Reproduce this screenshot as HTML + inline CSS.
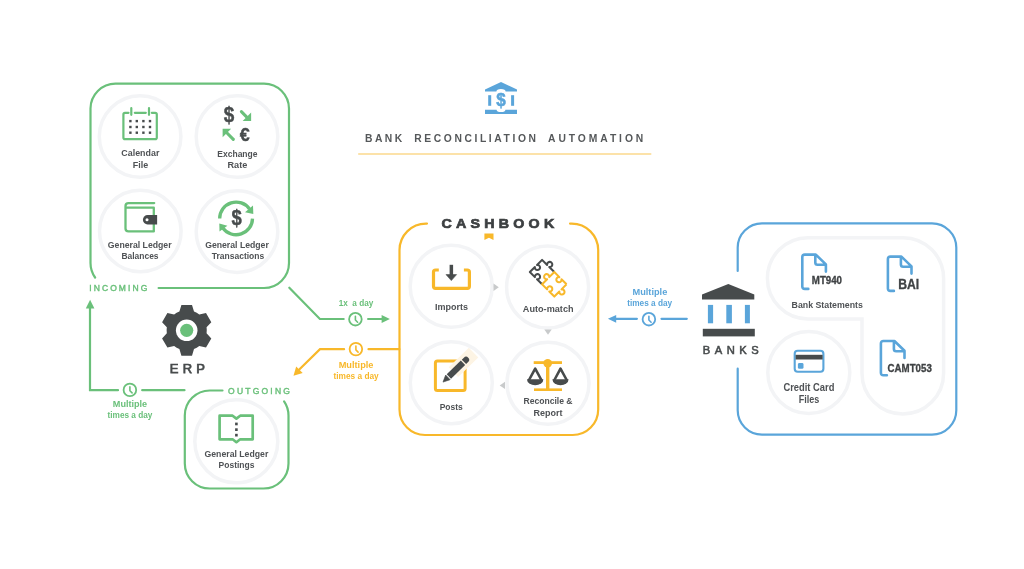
<!DOCTYPE html>
<html><head><meta charset="utf-8">
<style>
html,body{margin:0;padding:0;background:#fff;width:1024px;height:569px;overflow:hidden}
svg{display:block;will-change:transform;font-family:"Liberation Sans",sans-serif}
</style></head>
<body>
<svg width="1024" height="569" viewBox="0 0 1024 569">
<path d="M485 89.4 L501 82.1 L517 89.4 L517 91.6 L505.6 91.6 A4.6 2.6 0 0 0 496.4 91.6 L485 91.6 Z" fill="#5aa5da"/>
<rect x="488.2" y="95.2" width="3" height="10.6" fill="#5aa5da"/>
<rect x="511.1" y="95.2" width="3" height="10.6" fill="#5aa5da"/>
<path d="M485 109.8 L496.6 109.8 A4.4 2.3 0 0 0 505.4 109.8 L517 109.8 L517 114.1 L485 114.1 Z" fill="#5aa5da"/>
<text transform="translate(501.1 106.2) scale(0.95 1)" font-size="18" font-weight="bold" fill="#5aa5da" stroke="#5aa5da" stroke-width="0.5" text-anchor="middle">$</text>
<text x="365" y="141.8" font-size="10.3" font-weight="bold" fill="#55585a" textLength="37.2" lengthAdjust="spacing" >BANK</text>
<text x="414.3" y="141.8" font-size="10.3" font-weight="bold" fill="#55585a" textLength="121.7" lengthAdjust="spacing" >RECONCILIATION</text>
<text x="548.1" y="141.8" font-size="10.3" font-weight="bold" fill="#55585a" textLength="95.2" lengthAdjust="spacing" >AUTOMATION</text>
<line x1="358.2" y1="154" x2="651.3" y2="154" stroke="#fbd98c" stroke-width="1.6"/>
<path d="M95.1 277.5 A25 25 0 0 1 90.5 263 L90.5 108.6 A25 25 0 0 1 115.5 83.6 L264 83.6 A25 25 0 0 1 289 108.6 L289 263 A25 25 0 0 1 264 288 L158.6 288" fill="none" stroke="#6ac07a" stroke-width="2.2" stroke-linecap="round"/>
<circle cx="140.1" cy="136.5" r="40.8" fill="none" stroke="#f3f4f6" stroke-width="3.5"/>
<circle cx="237" cy="136.5" r="40.8" fill="none" stroke="#f3f4f6" stroke-width="3.5"/>
<circle cx="140.3" cy="231" r="40.8" fill="none" stroke="#f3f4f6" stroke-width="3.5"/>
<circle cx="237" cy="231.6" r="40.8" fill="none" stroke="#f3f4f6" stroke-width="3.5"/>
<text x="89.2" y="290.8" font-size="8.5" font-weight="normal" fill="#6ac07a" textLength="58.2" lengthAdjust="spacing" stroke="#6ac07a" stroke-width="0.4">INCOMING</text>
<g fill="none" stroke="#6ac07a" stroke-width="2.2" stroke-linecap="round">
<path d="M128.5 112.8 L125 112.8 Q123.4 112.8 123.4 114.5 L123.4 137.4 Q123.4 139.1 125 139.1 L155.2 139.1 Q156.8 139.1 156.8 137.4 L156.8 114.5 Q156.8 112.8 155.2 112.8 L151.8 112.8"/>
<path d="M134.8 112.8 L145.8 112.8"/>
<path d="M131.3 108.2 L131.3 114.8 M149 108.2 L149 114.8"/></g>
<g fill="#474b4c"><rect x="129.2" y="119.9" width="2.4" height="2.4"/><rect x="135.6" y="119.9" width="2.4" height="2.4"/><rect x="142.2" y="119.9" width="2.4" height="2.4"/><rect x="148.8" y="119.9" width="2.4" height="2.4"/><rect x="129.2" y="125.8" width="2.4" height="2.4"/><rect x="135.6" y="125.8" width="2.4" height="2.4"/><rect x="142.2" y="125.8" width="2.4" height="2.4"/><rect x="148.8" y="125.8" width="2.4" height="2.4"/><rect x="129.2" y="131.5" width="2.4" height="2.4"/><rect x="135.6" y="131.5" width="2.4" height="2.4"/><rect x="142.2" y="131.5" width="2.4" height="2.4"/><rect x="148.8" y="131.5" width="2.4" height="2.4"/></g>
<text x="140.35" y="156" font-size="9.7" font-weight="bold" fill="#4f5255" text-anchor="middle" textLength="38" lengthAdjust="spacingAndGlyphs">Calendar</text>
<text x="140.5" y="167.7" font-size="9.7" font-weight="bold" fill="#4f5255" text-anchor="middle" textLength="15.4" lengthAdjust="spacingAndGlyphs">File</text>
<text transform="translate(229.1 121.6) scale(0.86 1)" font-size="22" font-weight="bold" fill="#474b4c" stroke="#474b4c" stroke-width="0.45" text-anchor="middle">$</text>
<text transform="translate(244.8 141.3) scale(0.95 1)" font-size="19" font-weight="bold" fill="#474b4c" stroke="#474b4c" stroke-width="0.3" text-anchor="middle">€</text>
<g stroke="#6ac07a" stroke-width="3.1" fill="#6ac07a">
<line x1="241.4" y1="111.7" x2="247.5" y2="117.8" stroke-linecap="round"/><path d="M251.1 112.4 L251.1 120.9 L242.6 120.9 Z" stroke="none"/>
<line x1="233.3" y1="139.3" x2="227" y2="133" stroke-linecap="round"/><path d="M222.6 128.8 L231.1 128.8 L222.6 137.3 Z" stroke="none"/></g>
<text x="237.4" y="156.5" font-size="9.7" font-weight="bold" fill="#4f5255" text-anchor="middle" textLength="40.2" lengthAdjust="spacingAndGlyphs">Exchange</text>
<text x="237.4" y="167.7" font-size="9.7" font-weight="bold" fill="#4f5255" text-anchor="middle" textLength="19.8" lengthAdjust="spacingAndGlyphs">Rate</text>
<path d="M154.2 203.1 L128.5 203.1 Q125.5 203.1 125.5 206.1 L125.5 228.5 Q125.5 231.4 128.5 231.4 L153.8 231.4 L153.8 207.7 L126 207.7" fill="none" stroke="#6ac07a" stroke-width="2.3" stroke-linecap="round" stroke-linejoin="round"/>
<path d="M147.6 215 L157.1 215 L157.1 224.4 L147.6 224.4 A4.7 4.7 0 0 1 147.6 215 Z" fill="#474b4c"/><circle cx="147" cy="219.8" r="1.5" fill="#fff"/>
<text x="139.7" y="247.9" font-size="9.7" font-weight="bold" fill="#4f5255" text-anchor="middle" textLength="63.8" lengthAdjust="spacingAndGlyphs">General Ledger</text>
<text x="140" y="258.6" font-size="9.7" font-weight="bold" fill="#4f5255" text-anchor="middle" textLength="37.1" lengthAdjust="spacingAndGlyphs">Balances</text>
<g fill="none" stroke="#6ac07a" stroke-width="3.3"><path d="M219.7 218.4 A16.4 16.4 0 0 1 249.5 209"/><path d="M252.5 218.6 A16.4 16.4 0 0 1 223 228.2"/></g>
<g fill="#6ac07a"><path d="M253 205.5 L253.3 214 L245 212.3 Z"/><path d="M219.3 223.5 L219.5 231.5 L227.4 225.8 Z"/></g>
<text transform="translate(236.6 225.1) scale(0.84 1)" font-size="22" font-weight="bold" fill="#474b4c" stroke="#474b4c" stroke-width="0.45" text-anchor="middle">$</text>
<text x="237" y="248.2" font-size="9.7" font-weight="bold" fill="#4f5255" text-anchor="middle" textLength="63.7" lengthAdjust="spacingAndGlyphs">General Ledger</text>
<text x="238" y="259.4" font-size="9.7" font-weight="bold" fill="#4f5255" text-anchor="middle" textLength="52.4" lengthAdjust="spacingAndGlyphs">Transactions</text>
<path d="M179.40 311.57 L181.40 304.95 L192.00 304.95 L194.00 311.57 A20.1 20.1 0 0 1 199.27 314.61 L199.27 314.61 L206.01 313.03 L211.31 322.21 L206.57 327.26 A20.1 20.1 0 0 1 206.57 333.34 L206.57 333.34 L211.31 338.39 L206.01 347.57 L199.27 345.99 A20.1 20.1 0 0 1 194.00 349.03 L194.00 349.03 L192.00 355.65 L181.40 355.65 L179.40 349.03 A20.1 20.1 0 0 1 174.13 345.99 L174.13 345.99 L167.39 347.57 L162.09 338.39 L166.83 333.34 A20.1 20.1 0 0 1 166.83 327.26 L166.83 327.26 L162.09 322.21 L167.39 313.03 L174.13 314.61 A20.1 20.1 0 0 1 179.40 311.57 Z" fill="#474b4c"/><circle cx="186.7" cy="330.3" r="10.8" fill="#fff"/><circle cx="186.7" cy="330.3" r="6.6" fill="#6ac07a"/>
<text x="169.8" y="373" font-size="13" font-weight="normal" fill="#474b4c" textLength="35.2" lengthAdjust="spacing" stroke="#474b4c" stroke-width="0.75">ERP</text>
<path d="M90 306 L90 390.2 L118 390.2 M142.2 390.2 L184.5 390.2" fill="none" stroke="#6ac07a" stroke-width="2.2" stroke-linecap="round"/>
<circle cx="129.9" cy="389.9" r="6.3" fill="none" stroke="#6ac07a" stroke-width="1.8"/><path d="M129.9 386.9 L129.9 390.7 L132.1 392.9" fill="none" stroke="#6ac07a" stroke-width="1.6" stroke-linecap="round" stroke-linejoin="round"/>
<path d="M90.1 299.7 L94.4 308.5 L85.8 308.5 Z" fill="#6ac07a"/>
<text x="130" y="407.2" font-size="9.4" font-weight="bold" fill="#6ac07a" text-anchor="middle" textLength="34.4" lengthAdjust="spacingAndGlyphs">Multiple</text>
<text x="130" y="417.7" font-size="9.4" font-weight="bold" fill="#6ac07a" text-anchor="middle" textLength="44.9" lengthAdjust="spacingAndGlyphs">times a day</text>
<path d="M222.5 390.5 L209.8 390.5 A25 25 0 0 0 184.8 415.5 L184.8 463.5 A25 25 0 0 0 209.8 488.5 L263.5 488.5 A25 25 0 0 0 288.5 463.5 L288.5 415.5 A25 25 0 0 0 284.1 401.3" fill="none" stroke="#6ac07a" stroke-width="2.2" stroke-linecap="round"/>
<circle cx="236.3" cy="441.3" r="41.5" fill="none" stroke="#f3f4f6" stroke-width="3.5"/>
<text x="228.1" y="394.1" font-size="8.5" font-weight="normal" fill="#6ac07a" textLength="61.8" lengthAdjust="spacing" stroke="#6ac07a" stroke-width="0.4">OUTGOING</text>
<path d="M219.6 415.7 L232.6 415.7 L236.4 418.6 L240.2 415.7 L252.7 415.7 L252.7 439.3 L240.2 439.3 L236.4 442.2 L232.6 439.3 L219.6 439.3 Z" fill="none" stroke="#6ac07a" stroke-width="2.7" stroke-linejoin="round"/>
<g fill="#474b4c"><rect x="235.1" y="422.6" width="2.6" height="2.7"/><rect x="235.1" y="428.3" width="2.6" height="2.7"/><rect x="235.1" y="433.8" width="2.6" height="2.7"/></g>
<text x="236.4" y="457" font-size="9.7" font-weight="bold" fill="#4f5255" text-anchor="middle" textLength="63.8" lengthAdjust="spacingAndGlyphs">General Ledger</text>
<text x="236.5" y="467.6" font-size="9.7" font-weight="bold" fill="#4f5255" text-anchor="middle" textLength="35.9" lengthAdjust="spacingAndGlyphs">Postings</text>
<path d="M289.3 287.7 L319.9 319 L343.7 319 M368.1 319 L382 319" fill="none" stroke="#6ac07a" stroke-width="2.2" stroke-linecap="round"/>
<circle cx="355.4" cy="319.2" r="6.3" fill="none" stroke="#6ac07a" stroke-width="1.8"/><path d="M355.4 316.2 L355.4 320.0 L357.59999999999997 322.2" fill="none" stroke="#6ac07a" stroke-width="1.6" stroke-linecap="round" stroke-linejoin="round"/>
<path d="M389.9 319 L381.6 315.1 L381.6 322.9 Z" fill="#6ac07a"/>
<path d="M399.4 349.2 L368.5 349.2 M344.1 349.2 L320 349.2 L298 370.8" fill="none" stroke="#f8b82a" stroke-width="2.2" stroke-linecap="round"/>
<circle cx="355.9" cy="349.1" r="6.3" fill="none" stroke="#f8b82a" stroke-width="1.8"/><path d="M355.9 346.1 L355.9 349.90000000000003 L358.09999999999997 352.1" fill="none" stroke="#f8b82a" stroke-width="1.6" stroke-linecap="round" stroke-linejoin="round"/>
<path d="M293.5 375.8 L296.2 366.6 L302.7 373.1 Z" fill="#f8b82a"/>
<text x="356" y="305.9" font-size="9.4" font-weight="bold" fill="#6ac07a" text-anchor="middle" textLength="34.6" lengthAdjust="spacingAndGlyphs">1x  a day</text>
<text x="356.1" y="367.7" font-size="9.4" font-weight="bold" fill="#f8b82a" text-anchor="middle" textLength="34.8" lengthAdjust="spacingAndGlyphs">Multiple</text>
<text x="356.1" y="378.6" font-size="9.4" font-weight="bold" fill="#f8b82a" text-anchor="middle" textLength="45.2" lengthAdjust="spacingAndGlyphs">times a day</text>
<path d="M427 223.6 L426 223.6 A26.5 26.5 0 0 0 399.5 250.1 L399.5 409.5 A25.5 25.5 0 0 0 425 435 L572.7 435 A25.5 25.5 0 0 0 598.2 409.5 L598.2 250.1 A26.5 26.5 0 0 0 571.7 223.6 L570 223.6" fill="none" stroke="#f8b82a" stroke-width="2.2" stroke-linecap="round"/>
<g transform="scale(1.08 1)"><text x="408.89" y="228.3" font-size="13.2" font-weight="bold" fill="#3d4042" textLength="104.26" lengthAdjust="spacing" stroke="#3d4042" stroke-width="0.7">CASHBOOK</text></g>
<path d="M484.4 233.5 L493.5 233.5 L493.5 240.1 L488.95 237.7 L484.4 240.1 Z" fill="#f8b82a"/>
<circle cx="451.2" cy="286.2" r="41" fill="none" stroke="#f3f4f6" stroke-width="3.5"/>
<circle cx="547.6" cy="287" r="41" fill="none" stroke="#f3f4f6" stroke-width="3.5"/>
<circle cx="451.3" cy="382.7" r="41" fill="none" stroke="#f3f4f6" stroke-width="3.5"/>
<circle cx="548" cy="383.2" r="41" fill="none" stroke="#f3f4f6" stroke-width="3.5"/>
<path d="M493.5 283.6 L498.8 287.3 L493.5 291 Z" fill="#c8cacb"/><path d="M544.3 329.5 L551.7 329.5 L548 334.8 Z" fill="#c8cacb"/><path d="M505 381.7 L499.7 385.4 L505 389.1 Z" fill="#c8cacb"/>
<path d="M438.8 270 L435.6 270 Q433.5 270 433.5 272.1 L433.5 286.2 Q433.5 288.3 435.6 288.3 L467.3 288.3 Q469.4 288.3 469.4 286.2 L469.4 272.1 Q469.4 270 467.3 270 L463.9 270" fill="none" stroke="#f8b82a" stroke-width="3.2"/>
<rect x="449.6" y="264.8" width="3.5" height="11" fill="#474b4c"/><path d="M446 274.6 L456.6 274.6 L451.3 280.6 Z" fill="#474b4c" stroke="#474b4c" stroke-width="0.6" stroke-linejoin="round"/>
<text x="451.5" y="309.8" font-size="9.7" font-weight="bold" fill="#4f5255" text-anchor="middle" textLength="33" lengthAdjust="spacingAndGlyphs">Imports</text>
<g transform="translate(548.2 278.2) rotate(45)" fill="none" stroke-width="2.05" stroke-linejoin="round">
<path stroke="#474b4c" d="M0.00 -8.65 L-7.15 -8.65 A2.6 2.6 0 1 0 -10.15 -8.65 L-17.30 -8.65 L-17.30 -1.50 A2.6 2.6 0 1 1 -17.30 1.50 L-17.30 8.65 L-10.15 8.65 A2.6 2.6 0 1 1 -7.15 8.65 L0.00 8.65 M0.00 -8.65 "/><path stroke="#f8b82a" d="M17.30 -8.65 L10.15 -8.65 A2.6 2.6 0 1 1 7.15 -8.65 L0.00 -8.65 L0.00 -1.50 A2.6 2.6 0 1 0 0.00 1.50 L0.00 8.65 L7.15 8.65 A2.6 2.6 0 1 1 10.15 8.65 L17.30 8.65 L17.30 1.50 A2.6 2.6 0 1 0 17.30 -1.50 L17.30 -8.65 "/></g>
<text x="548.2" y="311.9" font-size="9.7" font-weight="bold" fill="#4f5255" text-anchor="middle" textLength="50.7" lengthAdjust="spacingAndGlyphs">Auto-match</text>
<rect x="435.4" y="360.9" width="29.7" height="29.5" rx="2" fill="none" stroke="#f8b82a" stroke-width="3"/>
<g transform="translate(443 382.1) rotate(-44)"><rect x="14.5" y="-6.8" width="28" height="13.6" fill="#fdf4e4"/>
<path d="M0 0 L6.8 -3.2 L6.8 3.2 Z" fill="#474b4c" stroke="#474b4c" stroke-width="0.6" stroke-linejoin="round"/><rect x="8.2" y="-3.1" width="19.6" height="6.2" fill="#474b4c"/>
<path d="M29.1 -3.1 L32 -3.1 A3.1 3.1 0 0 1 32 3.1 L29.1 3.1 Z" fill="#474b4c"/></g>
<text x="451.2" y="410.3" font-size="9.7" font-weight="bold" fill="#4f5255" text-anchor="middle" textLength="23.1" lengthAdjust="spacingAndGlyphs">Posts</text>
<g fill="#f8b82a"><rect x="533.7" y="361.2" width="28.3" height="2.8"/><circle cx="547.7" cy="363.3" r="4.3"/>
<rect x="546" y="363" width="3.4" height="27"/><rect x="534" y="388.4" width="28" height="2.6"/></g>
<g fill="none" stroke="#474b4c" stroke-width="2.6" stroke-linejoin="round" stroke-linecap="round">
<path d="M529 380 L535.2 368.6 L541.4 380"/><path d="M554.4 380 L560.5 368.6 L566.7 380"/></g>
<g fill="#474b4c"><path d="M527 379.3 L543.4 379.3 A8.2 6 0 0 1 527 379.3 Z"/><path d="M552.4 379.3 L568.6 379.3 A8.1 6 0 0 1 552.4 379.3 Z"/></g>
<text x="548" y="404.3" font-size="9.7" font-weight="bold" fill="#4f5255" text-anchor="middle" textLength="49.1" lengthAdjust="spacingAndGlyphs">Reconcile &amp;</text>
<text x="548" y="415.7" font-size="9.7" font-weight="bold" fill="#4f5255" text-anchor="middle" textLength="29" lengthAdjust="spacingAndGlyphs">Report</text>
<path d="M636.9 318.8 L614 318.8 M661.5 318.8 L686.8 318.8" fill="none" stroke="#5aa5da" stroke-width="2.2" stroke-linecap="round"/>
<circle cx="648.9" cy="319.2" r="6.3" fill="none" stroke="#5aa5da" stroke-width="1.8"/><path d="M648.9 316.2 L648.9 320.0 L651.1 322.2" fill="none" stroke="#5aa5da" stroke-width="1.6" stroke-linecap="round" stroke-linejoin="round"/>
<path d="M607.9 318.8 L616.2 314.9 L616.2 322.7 Z" fill="#5aa5da"/>
<text x="649.9" y="294.6" font-size="9.4" font-weight="bold" fill="#5aa5da" text-anchor="middle" textLength="34.8" lengthAdjust="spacingAndGlyphs">Multiple</text>
<text x="649.7" y="305.8" font-size="9.4" font-weight="bold" fill="#5aa5da" text-anchor="middle" textLength="45" lengthAdjust="spacingAndGlyphs">times a day</text>
<path d="M702 294.6 L728.3 284 L754.3 294.6 L754.3 299.4 L702 299.4 Z" fill="#474b4c"/>
<rect x="707.9" y="304.9" width="5.2" height="18.4" fill="#5aa5da"/><rect x="726.3" y="304.9" width="5.6" height="18.4" fill="#5aa5da"/><rect x="744.9" y="304.9" width="5" height="18.4" fill="#5aa5da"/>
<rect x="702.8" y="328.8" width="52" height="7.6" fill="#474b4c"/>
<text x="702.8" y="353.9" font-size="11.2" font-weight="normal" fill="#474b4c" textLength="56" lengthAdjust="spacing" stroke="#474b4c" stroke-width="0.55">BANKS</text>
<path d="M737.7 270.9 L737.7 247.6 A24.3 24.3 0 0 1 762 223.3 L932 223.3 A24.3 24.3 0 0 1 956.3 247.6 L956.3 410.3 A24.3 24.3 0 0 1 932 434.6 L762 434.6 A24.3 24.3 0 0 1 737.7 410.3 L737.7 368.7" fill="none" stroke="#5aa5da" stroke-width="2.2" stroke-linecap="round"/>
<path d="M808 237.7 L903 237.7 A40.6 40.6 0 0 1 943.6 278.3 L943.6 373.2 A40.8 40.8 0 0 1 862 373.2 L862 318.9 L808 318.9 A40.5 40.5 0 0 1 808 237.7 Z" fill="none" stroke="#f3f4f6" stroke-width="3.5"/>
<circle cx="808.8" cy="372.6" r="41" fill="none" stroke="#f3f4f6" stroke-width="3.5"/>
<path transform="translate(802.3 254.6)" d="M6 34.3 L2.5 34.3 Q0 34.3 0 31.8 L0 2.5 Q0 0 2.5 0 L13.5 0 L23.6 9.8 L23.6 17 M13 0.5 L13 8 Q13 10.2 15.2 10.2 L23 10.2" fill="none" stroke="#5aa5da" stroke-width="2.6" stroke-linecap="round" stroke-linejoin="round"/>
<path transform="translate(887.9 256.6)" d="M6 34.3 L2.5 34.3 Q0 34.3 0 31.8 L0 2.5 Q0 0 2.5 0 L13.5 0 L23.6 9.8 L23.6 17 M13 0.5 L13 8 Q13 10.2 15.2 10.2 L23 10.2" fill="none" stroke="#5aa5da" stroke-width="2.6" stroke-linecap="round" stroke-linejoin="round"/>
<path transform="translate(880.9 341)" d="M6 34.3 L2.5 34.3 Q0 34.3 0 31.8 L0 2.5 Q0 0 2.5 0 L13.5 0 L23.6 9.8 L23.6 17 M13 0.5 L13 8 Q13 10.2 15.2 10.2 L23 10.2" fill="none" stroke="#5aa5da" stroke-width="2.6" stroke-linecap="round" stroke-linejoin="round"/>
<text x="811.8" y="284.3" font-size="11.5" font-weight="bold" fill="#3f4244" stroke="#3f4244" stroke-width="0.35" textLength="30.2" lengthAdjust="spacingAndGlyphs">MT940</text>
<text x="898.2" y="288.9" font-size="15.2" font-weight="bold" fill="#3f4244" stroke="#3f4244" stroke-width="0.35" textLength="21" lengthAdjust="spacingAndGlyphs">BAI</text>
<text x="887.6" y="371.7" font-size="11.8" font-weight="bold" fill="#3f4244" stroke="#3f4244" stroke-width="0.35" textLength="44.2" lengthAdjust="spacingAndGlyphs">CAMT053</text>
<text x="827.2" y="307.6" font-size="9.7" font-weight="bold" fill="#4f5255" text-anchor="middle" textLength="71.3" lengthAdjust="spacingAndGlyphs">Bank Statements</text>
<rect x="794.7" y="350.7" width="28.7" height="21" rx="3" fill="none" stroke="#5aa5da" stroke-width="2.1"/>
<rect x="795.6" y="354.8" width="27" height="4.7" fill="#474b4c"/><rect x="797.9" y="363.1" width="5.6" height="5.7" rx="1.4" fill="#5aa5da"/>
<text x="808.9" y="390.8" font-size="10" font-weight="bold" fill="#4f5255" text-anchor="middle" textLength="51" lengthAdjust="spacingAndGlyphs">Credit Card</text>
<text x="809.1" y="402.6" font-size="10" font-weight="bold" fill="#4f5255" text-anchor="middle" textLength="20.6" lengthAdjust="spacingAndGlyphs">Files</text>
</svg>
</body></html>
